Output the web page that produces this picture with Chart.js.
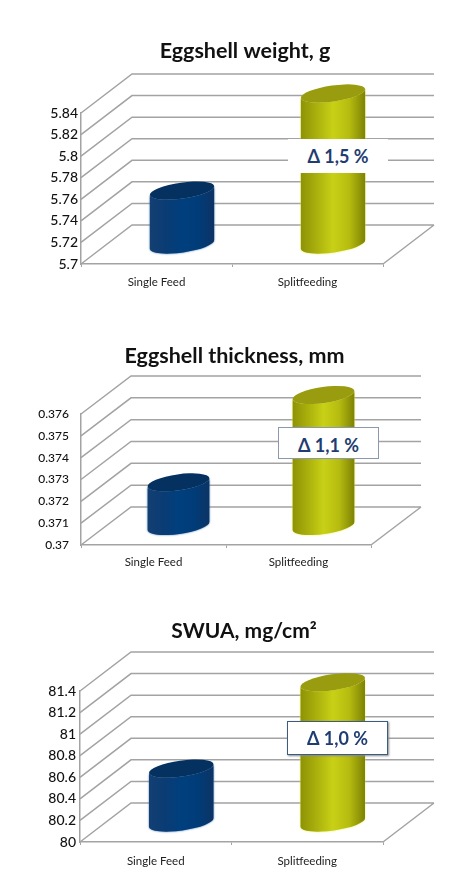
<!DOCTYPE html>
<html lang="en">
<head>
    <meta charset="UTF-8">
    <title>Eggshell quality</title>
    <script src="https://cdn.jsdelivr.net/npm/chart.js"></script>
    <style>
        html, body { margin: 0; padding: 0; background: #fff; }
        body { position: relative; width: 474px; height: 890px; overflow: hidden; }
        canvas { position: absolute; left: 0; }
        .delta {
            position: absolute;
            display: flex;
            align-items: center;
            justify-content: center;
            box-sizing: border-box;
            background: #fff;
            color: #1f3d70;
            font: bold 18px Lato, sans-serif;
        }
    </style>
</head>
<body>
    <canvas id="weightChart"></canvas>
    <canvas id="thicknessChart"></canvas>
    <canvas id="swuaChart"></canvas>

    <div class="delta" style="left:288px;top:139px;width:100px;height:34px;">Δ 1,5 %</div>
    <div class="delta" style="left:278px;top:427px;width:101px;height:32px;padding-top:3px;border:1px solid #8b99b0;">Δ 1,1 %</div>
    <div class="delta" style="left:287px;top:721px;width:101px;height:34px;border:1px solid #3d5a80;box-shadow:1px 1px 2px #888;">Δ 1,0 %</div>

    <script>
        const categories = ['Single Feed', 'Splitfeeding'];

        const weightValues = [5.75, 5.84];
        const weightTicks = [5.7, 5.72, 5.74, 5.76, 5.78, 5.8, 5.82, 5.84];

        const thicknessValues = [0.372, 0.376];
        const thicknessTicks = [0.37, 0.371, 0.372, 0.373, 0.374, 0.375, 0.376];

        const swuaValues = [80.5, 81.3];
        const swuaTicks = [80, 80.2, 80.4, 80.6, 80.8, 81, 81.2, 81.4];

        const gridColor = '#a3a3a3';

        const blueLook = {
            side: ['#143f72', '#0a3c74', '#003f7e', '#003c78', '#0d3364'],
            top: '#04315f',
            rim: '#2a6aa8'
        };
        const yellowLook = {
            side: ['#8d9206', '#aab00c', '#c8d116', '#b6bc0f', '#7c8104'],
            top: '#999c0e',
            rim: '#e4e84a'
        };

        // draws the 3D walls and the cylinders from the chart's own scales
        const cylinderPlugin = {
            id: 'cylinders',
            beforeDatasetsDraw(chart, args, opts) {
                const ctx = chart.ctx;
                const { left, right } = chart.chartArea;
                const y = chart.scales.y;
                ctx.save();
                ctx.strokeStyle = gridColor;
                ctx.lineWidth = 1.5;
                ctx.beginPath();
                y.ticks.forEach(t => {
                    const py = y.getPixelForValue(t.value);
                    ctx.moveTo(left, py);
                    ctx.lineTo(left + opts.dx, py + opts.dy);
                    ctx.lineTo(right + opts.dx, py + opts.dy);
                });
                const base = y.getPixelForValue(y.min);
                ctx.moveTo(right, base);
                ctx.lineTo(right + opts.dx, base + opts.dy);
                ctx.stroke();
                ctx.restore();
            },
            beforeDatasetDraw(chart, args, opts) {
                const ctx = chart.ctx;
                const tilt = -0.14;
                const ry = 8;
                args.meta.data.forEach((bar, i) => {
                    const look = i === 0 ? blueLook : yellowLook;
                    const rx = bar.width / 2;
                    const cx = bar.x + opts.dx / 2;
                    const top = bar.y + opts.dy / 2;
                    const bottom = bar.base + opts.dy / 2;

                    const grad = ctx.createLinearGradient(cx - rx, 0, cx + rx, 0);
                    look.side.forEach((c, k) => grad.addColorStop(k / (look.side.length - 1), c));

                    ctx.save();
                    ctx.beginPath();
                    ctx.ellipse(cx, bottom, rx, ry, tilt, 0, Math.PI);
                    ctx.ellipse(cx, top, rx, ry, tilt, Math.PI, 0, true);
                    ctx.closePath();
                    ctx.fillStyle = grad;
                    ctx.shadowColor = look.rim;
                    ctx.shadowBlur = 2;
                    ctx.fill();
                    ctx.shadowBlur = 0;

                    ctx.beginPath();
                    ctx.ellipse(cx, top, rx, ry, tilt, 0, Math.PI * 2);
                    ctx.fillStyle = look.top;
                    ctx.fill();
                    ctx.restore();
                });
                return false;
            }
        };

        function makeChart(id, title, values, ticks, box) {
            const canvas = document.getElementById(id);
            canvas.style.top = box.top + 'px';
            canvas.width = box.width;
            canvas.height = box.height;

            return new Chart(canvas, {
                type: 'bar',
                plugins: [cylinderPlugin],
                data: {
                    labels: categories,
                    datasets: [{
                        data: values,
                        base: ticks[0],
                        backgroundColor: ['#003c78', '#c8d116'],
                        barPercentage: 0.43,
                        categoryPercentage: 1
                    }]
                },
                options: {
                    responsive: false,
                    animation: false,
                    plugins: {
                        legend: { display: false },
                        tooltip: { enabled: false },
                        cylinders: { dx: box.dx, dy: box.dy },
                        title: {
                            display: true,
                            text: title,
                            color: '#111',
                            font: { family: 'Lato, sans-serif', size: box.titleSize, weight: 'bold', lineHeight: 1.2 },
                            padding: { top: box.titleTop, bottom: box.plotTop - box.titleTop - box.titleSize * 1.2 }
                        }
                    },
                    scales: {
                        y: {
                            min: ticks[0],
                            max: ticks[ticks.length - 1],
                            afterBuildTicks: s => { s.ticks = ticks.map(v => ({ value: v })); },
                            afterFit: s => { s.width = box.left; },
                            grid: { display: false, drawTicks: false },
                            border: { display: true, color: gridColor, width: 1.5 },
                            ticks: {
                                autoSkip: false,
                                padding: box.yPad,
                                color: '#111',
                                font: { family: 'Lato, sans-serif', size: box.tickSize, weight: '500' },
                                callback: v => String(v)
                            }
                        },
                        // empty axis, only keeps the room for the 3D depth on the right
                        y2: {
                            position: 'right',
                            afterFit: s => { s.width = box.width - box.right; },
                            grid: { display: false, drawTicks: false },
                            border: { display: false },
                            ticks: { display: false }
                        },
                        x: {
                            afterFit: s => { s.height = box.height - box.plotBottom; },
                            grid: { drawOnChartArea: false, tickLength: 3, color: gridColor },
                            border: { color: gridColor, width: 1.5 },
                            ticks: {
                                padding: box.xPad,
                                maxRotation: 0,
                                color: '#222',
                                font: { family: 'Lato, sans-serif', size: 11.5 }
                            }
                        }
                    }
                }
            });
        }

        makeChart('weightChart', 'Eggshell weight, g', weightValues, weightTicks, {
            top: 0, width: 490, height: 300, left: 81, right: 383,
            plotTop: 113, plotBottom: 264, dx: 51, dy: -39,
            titleTop: 38, titleSize: 21.5, tickSize: 14, yPad: 3, xPad: 8
        });

        makeChart('thicknessChart', 'Eggshell thickness, mm', thicknessValues, thicknessTicks, {
            top: 320, width: 469, height: 260, left: 81, right: 371,
            plotTop: 94, plotBottom: 225, dx: 50, dy: -38,
            titleTop: 23, titleSize: 21.5, tickSize: 12, yPad: 12, xPad: 7
        });

        makeChart('swuaChart', 'SWUA, mg/cm²', swuaValues, swuaTicks, {
            top: 610, width: 488, height: 280, left: 80, right: 383,
            plotTop: 81, plotBottom: 232, dx: 51, dy: -39,
            titleTop: 9, titleSize: 21, tickSize: 14, yPad: 4, xPad: 9
        });
    </script>
</body>
</html>
